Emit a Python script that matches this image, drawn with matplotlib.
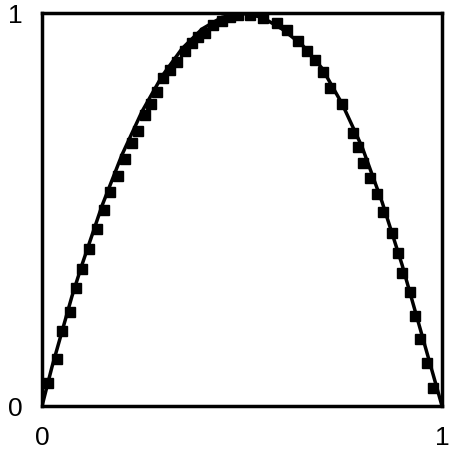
import matplotlib
matplotlib.use("Agg")
import matplotlib.pyplot as plt

marker_x = [0.015,0.037,0.05,0.07,0.085,0.10,0.118,0.137,0.155,0.17,0.19,0.208,0.225,0.24,0.258,0.272,0.288,0.303,0.32,0.337,0.357,0.375,0.39,0.407,0.428,0.45,0.47,0.49,
            0.52,0.553,0.587,0.612,0.64,0.662,0.682,0.703,0.72,0.75,0.778,0.79,0.803,0.82,0.837,0.853,0.875,0.89,0.9,0.92,0.933,0.945,0.963,0.978]
marker_y = [0.06,0.12,0.19,0.24,0.30,0.35,0.40,0.45,0.50,0.545,0.585,0.63,0.67,0.70,0.74,0.77,0.80,0.835,0.855,0.875,0.905,0.925,0.94,0.95,0.97,0.98,0.99,0.995,
            0.995,0.987,0.975,0.957,0.93,0.905,0.88,0.85,0.81,0.77,0.695,0.66,0.62,0.58,0.54,0.495,0.44,0.39,0.34,0.29,0.23,0.17,0.11,0.046]
line_x = [0,0.025,0.05,0.075,0.1,0.15,0.2,0.25,0.3,0.35,0.4,0.45,0.5,0.55,0.6,0.65,0.7,0.75,0.8,0.85,0.9,0.925,0.95,0.975,1.0]
line_y = [0,0.10,0.19,0.28,0.36,0.51,0.64,0.75,0.84,0.91,0.96,0.99,1.0,0.99,0.96,0.92,0.86,0.77,0.66,0.52,0.36,0.27,0.18,0.09,0]
xticklabels = ["0", "1"]
yticklabels = ["0", "1"]

fig = plt.figure(figsize=(4.74, 4.75), dpi=100)
ax = fig.add_axes([0.0886, 0.145, 0.844, 0.827])
ax.plot(line_x, line_y, color="black", lw=2.5)
ax.plot(marker_x, marker_y, ls="none", marker="s", ms=7.5, color="black")
ax.set_xlim(0, 1)
ax.set_ylim(0, 1)
ax.set_xticks([0, 1])
ax.set_yticks([0, 1])
ax.set_xticklabels(xticklabels, fontsize=19, family="Liberation Sans")
ax.set_yticklabels(yticklabels, fontsize=19, family="Liberation Sans")
ax.tick_params(length=0, pad=14)
for s in ax.spines.values():
    s.set_linewidth(2.5)
fig.savefig("out.png", dpi=100)
